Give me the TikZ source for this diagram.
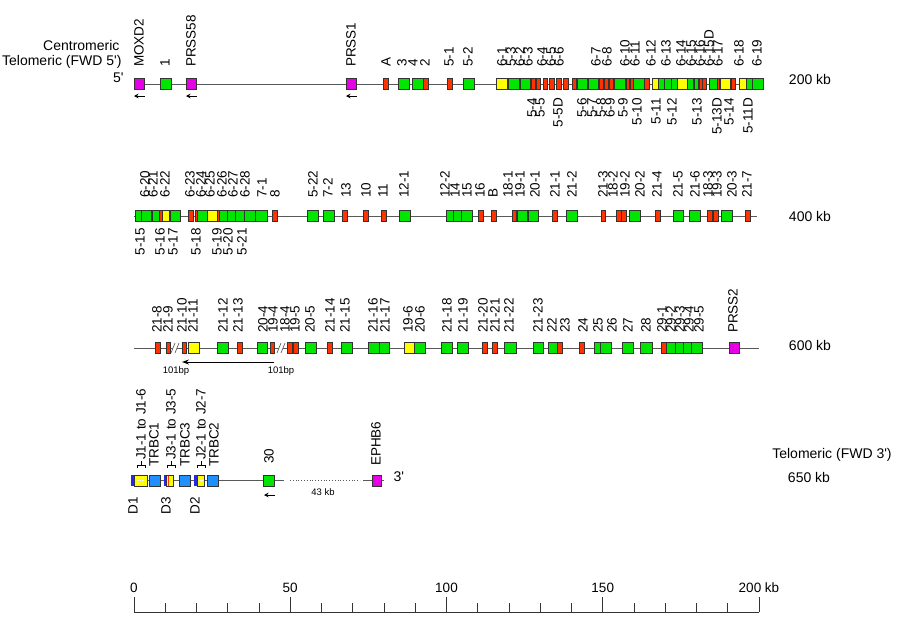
\documentclass[tikz,border=0pt]{standalone}
\usepackage{fontspec}
\setmainfont{Liberation Sans}
\usetikzlibrary{arrows.meta}
\definecolor{gn}{RGB}{0,230,0}
\definecolor{rd}{RGB}{255,51,0}
\definecolor{yl}{RGB}{255,255,0}
\definecolor{mg}{RGB}{230,0,230}
\definecolor{bl}{RGB}{30,144,255}
\definecolor{db}{RGB}{40,40,230}
\newcommand{\genefont}{\fontsize{13.5}{15}\selectfont}
\newcommand{\sidefont}{\fontsize{14}{16}\selectfont}
\newcommand{\tinyfont}{\fontsize{9.5}{11}\selectfont}

\tikzset{
  gene/.style={draw=black!80, line width=0.6pt, inner sep=0pt, minimum height=11pt, fill=#1},
  dbar/.style={draw=none, inner sep=0pt, minimum height=11pt, fill=db},
  backbone/.style={black!65, line width=1pt},
  toplab/.style={rotate=90, anchor=west, inner sep=0pt, font=\genefont},
  botlab/.style={rotate=90, anchor=east, inner sep=0pt, font=\genefont},
  revarrow/.style={-{Stealth[length=4.5pt,width=4.5pt]}, line width=0.9pt},
}

\begin{document}
\begin{tikzpicture}[x=1pt,y=-1pt]
\useasboundingbox (0,0) rectangle (906,627);

%side labels
\node [font=\sidefont, anchor=east] (cen) at (123,45) {Centromeric};
\node [font=\sidefont, anchor=east] (tel5) at (125,62) {Telomeric (FWD 5\textquotesingle)};
\node [font=\sidefont, anchor=east] (five) at (127,78) {5\textquotesingle};
\node [font=\sidefont] (kb200) at (810,79) {200 kb};
\node [font=\sidefont] (kb400) at (810,216) {400 kb};
\node [font=\sidefont] (kb600) at (810,345) {600 kb};
\node [font=\sidefont] (tel3) at (832,455) {Telomeric (FWD 3\textquotesingle)};
\node [font=\sidefont] (kb650) at (809,477) {650 kb};

%first row
\coordinate (s1) at (134,84);
\coordinate (e1) at (763,84);
\draw [backbone] (s1) -- (e1);
\foreach \a/\b/\c [count=\i] in {134/144/mg,160/171/gn,186/196/mg,346/356/mg,383/388/rd,398/409/gn,412/423/gn,423/428/rd,
  447/452/rd,463/474/gn,496/507/yl,508/519/gn,520/530/gn,531/535/rd,536/540/rd,543/547/rd,549/554/rd,556/561/rd,
  563/568/rd,572/576/rd,577/587/gn,588/598/gn,599/603/rd,604/608/rd,609/613/rd,614/625/gn,626/629/rd,630/633/rd,
  633/644/gn,644/649/rd,652/658/yl,658/664/gn,664/671/gn,671/677/gn,677/687/yl,687/693/gn,694/698/gn,699/702/rd,
  702/706/rd,709/717/gn,717/719/rd,720/730/yl,731/735/rd,739/746/yl,746/752/gn,752/763/gn}
  \node [gene=\c, minimum width={(\b-\a)*1pt}] (r1-\i) at ({(\a+\b)/2},84) {};

%first row labels
\foreach \x/\t [count=\i] in {139/MOXD2,165/1,191/PRSS58,351/PRSS1,386/A,402/3,413/4,425/2,449/5-1,468/5-2,
  502/6-1,511/5-3,520/6-2,528/6-3,542/6-4,551/6-5,559/6-6,596/6-7,607/6-8,625/6-10,635/6-11,651/6-12,666/6-13,
  681/6-14,691/6-15,700/6-16,709/6-15D,718/6-17,739/6-18,757/6-19}
  \node [toplab] (t1-\i) at (\x,67) {\t};
\foreach \x/\t [count=\i] in {532/5-4,540/5-5,558/5-5D,582/5-6,592/5-7,601/5-8,610/6-9,623/5-9,637/5-10,
  656/5-11,672/5-12,697/5-13,717/5-13D,729/5-14,748/5-11D}
  \node [botlab] (b1-\i) at (\x,98) {\t};

%reverse genes
\foreach \x [count=\i] in {139,191,351}
  \draw [revarrow] (\x+5.5,96) -- (\x-5,96);

%second row
\coordinate (s2) at (134,216);
\coordinate (e2) at (757,216);
\draw [backbone] (s2) -- (e2);
\foreach \a/\b/\c [count=\i] in {135/141/gn,141/151/gn,152/159/gn,159/162/rd,162/169/yl,169/171/rd,170/180/gn,
  188/193/rd,195/197/rd,197/207/gn,207/217/yl,217/219/rd,219/227/gn,227/235/gn,235/244/gn,244/255/gn,255/267/gn,
  272/277/rd,307/318/gn,323/334/gn,342/347/rd,363/368/rd,381/386/rd,399/410/gn,446/453/gn,453/461/gn,461/472/gn,
  478/483/rd,491/496/rd,512/516/rd,517/527/gn,528/538/gn,552/557/rd,566/577/gn,601/605/rd,616/621/rd,621/626/rd,
  629/640/gn,655/660/rd,673/683/gn,689/700/gn,707/712/rd,713/718/rd,721/732/gn,745/750/rd}
  \node [gene=\c, minimum width={(\b-\a)*1pt}] (r2-\i) at ({(\a+\b)/2},216) {};

%second row labels
\foreach \x/\t [count=\i] in {145/6-20,153/6-21,165/6-22,190/6-23,201/6-24,210/6-25,222/6-26,233/6-27,245/6-28,
  262/7-1,275/8,313/5-22,328/7-2,346/13,366/10,383/11,404/12-1,445/12-2,455/14,467/15,480/16,493/B,508/18-1,
  520/19-1,535/20-1,555/21-1,572/21-2,603/21-3,613/18-2,625/19-2,640/20-2,657/21-4,678/21-5,695/21-6,708/18-3,
  717/19-3,732/20-3,747/21-7}
  \node [toplab] (t2-\i) at (\x,198) {\t};
\foreach \x/\t [count=\i] in {140/5-15,160/5-16,173/5-17,196/5-18,217/5-19,228/5-20,242/5-21}
  \node [botlab] (b2-\i) at (\x,228) {\t};

%third row
\coordinate (s3) at (134,348);
\coordinate (e3) at (759,348);
\draw [backbone] (s3) -- (e3);
\foreach \x in {175,281} {
  \fill [white] (\x-4,353) -- (\x,343) -- (\x+4,343) -- (\x,353) -- cycle;
  \draw [black!70, line width=0.6pt] (\x-4,353) -- (\x,343) (\x,353) -- (\x+4,343);
}
\foreach \a/\b/\c [count=\i] in {155/160/rd,166/170/rd,182/186/rd,188/199/yl,217/228/gn,237/242/rd,257/267/gn,
  270/274/rd,287/292/rd,293/298/rd,305/316/gn,327/332/rd,341/352/gn,368/379/gn,379/389/gn,404/414/yl,414/425/gn,
  441/452/gn,457/468/gn,482/487/rd,492/497/rd,504/516/gn,533/543/gn,548/557/gn,557/562/rd,579/584/rd,594/604/gn,
  600/611/gn,622/633/gn,640/652/gn,661/666/rd,666/675/gn,675/683/gn,683/691/gn,691/702/gn,729/739/mg}
  \node [gene=\c, minimum width={(\b-\a)*1pt}] (r3-\i) at ({(\a+\b)/2},348) {};

%third row labels
\foreach \x/\t [count=\i] in {157/21-8,168/21-9,182/21-10,193/21-11,223/21-12,238/21-13,263/20-4,273/19-4,
  285/18-4,295/19-5,310/20-5,330/21-14,345/21-15,373/21-16,385/21-17,408/19-6,420/20-6,447/21-18,463/21-19,
  483/21-20,495/21-21,509/21-22,538/21-23,552/22,565/23,583/24,598/25,612/26,628/27,646/28,662/29-1,671/29-2,
  680/29-3,689/29-4,699/29-5,733/PRSS2}
  \node [toplab] (t3-\i) at (\x,333) {\t};

%101bp arrow
\coordinate (bpR) at (274,362);
\coordinate (bpL) at (182,362);
\draw [-{Stealth[length=7pt,width=5pt]}, line width=1pt] (bpR) -- (bpL);
\node [font=\tinyfont] (bp1) at (176,371) {101bp};
\node [font=\tinyfont] (bp2) at (281,371) {101bp};

%fourth row
\coordinate (s4) at (131,480.5);
\coordinate (e4) at (284,480.5);
\coordinate (d4) at (290,480.5);
\coordinate (f4) at (360,480.5);
\coordinate (s5) at (363,480.5);
\coordinate (e5) at (384,480.5);
\draw [backbone] (s4) -- (e4);
\draw [black!65, line width=0.8pt, dotted] (d4) -- (f4);
\draw [backbone] (s5) -- (e5);
\node [gene=yl, minimum width=13pt] (j1) at (140.5,480.5) {};
\node [gene=bl, minimum width=11pt] (c1) at (154.5,480.5) {};
\node [gene=yl, minimum width=7pt] (j3) at (169.5,480.5) {};
\node [gene=bl, minimum width=11pt] (c3) at (184.5,480.5) {};
\node [gene=yl, minimum width=7pt] (j2) at (200.5,480.5) {};
\node [gene=bl, minimum width=11pt] (c2) at (212.5,480.5) {};
\node [gene=gn, minimum width=11pt] (g30) at (268.5,480.5) {};
\node [gene=mg, minimum width=9pt] (eph) at (376.5,480.5) {};
\node [dbar, minimum width=2.5pt] (d1) at (132.5,480.5) {};
\node [dbar, minimum width=2.5pt] (d3) at (165,480.5) {};
\node [dbar, minimum width=2.5pt] (d2) at (195.5,480.5) {};
\foreach \y in {477.5,480.5,483.5}
  \draw [white, line width=0.7pt, dash pattern=on 1.5pt off 1.2pt] (137,\y) -- (146,\y);
\draw [white, line width=0.7pt] (199,480.5) -- (203,480.5);
\draw [rd, line width=0.8pt] (168.5,475.5) -- (168.5,485.5);
\draw [revarrow] (274.5,495) -- (264,495);
\node [font=\tinyfont] (kb43) at (323,492) {43 kb};
\node [font=\sidefont, anchor=west] (three) at (390,477) {3\textquotesingle};

%J brackets
\foreach \x in {141,171,201}
  \draw [line width=0.6pt] (\x-4,468) -- (\x-4,465) -- (\x+4,465) -- (\x+4,468) (\x,465) -- (\x,461);

%fourth row labels
\node [toplab] (jl1) at (141,460) {J1-1 to J1-6};
\node [toplab] (tc1) at (154,467) {TRBC1};
\node [toplab] (jl3) at (171,460) {J3-1 to J3-5};
\node [toplab] (tc3) at (185,467) {TRBC3};
\node [toplab] (jl2) at (201,460) {J2-1 to J2-7};
\node [toplab] (tc2) at (214,467) {TRBC2};
\node [toplab] (t30) at (269,464) {30};
\node [toplab] (teph) at (376,466) {EPHB6};
\node [botlab] (ld1) at (133,497) {D1};
\node [botlab] (ld3) at (166,497) {D3};
\node [botlab] (ld2) at (195,497) {D2};

%scale bar
\coordinate (z0) at (134,612);
\coordinate (z200) at (759,612);
\draw [black!80, line width=0.8pt] (z0) -- (z200);
\foreach \k in {0,10,...,200}
  \draw [black!80, line width=0.8pt] (134+\k*3.125,612) -- (134+\k*3.125,603);
\foreach \k in {0,50,100,150}
  \draw [black!80, line width=0.8pt] (134+\k*3.125,603) -- (134+\k*3.125,597);
\draw [black!80, line width=0.8pt] (759,603) -- (759,597);
\foreach \k in {0,50,100,150}
  \node [font=\genefont] (n\k) at (134+\k*3.125,588) {\k};
\node [font=\genefont] (n200) at (759,588) {200 kb};

\end{tikzpicture}
\end{document}
